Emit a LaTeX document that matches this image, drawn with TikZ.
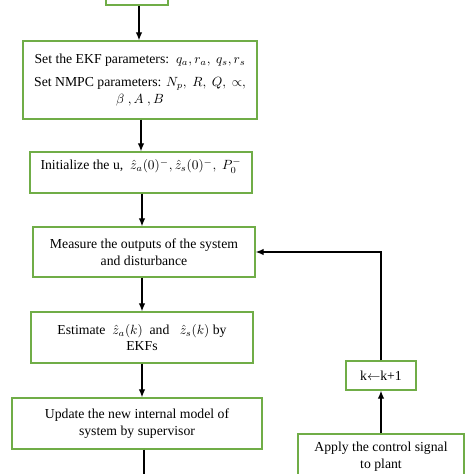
\documentclass[tikz,border=0pt]{standalone}
\usepackage{amsmath}
\usepackage{fontspec}
\setmainfont{Liberation Serif}
\usepackage{tikz}
\usetikzlibrary{arrows.meta}
\definecolor{boxgreen}{HTML}{70AD47}

\begin{document}
\begin{tikzpicture}[x=0.75pt,y=-0.75pt,>={Latex[length=6pt,width=5pt]}]
    \tikzstyle{block}=[draw=boxgreen,line width=1.1pt,fill=white,align=center,inner sep=0pt,font=\fontsize{10.3}{12.5}\selectfont]
    \tikzstyle{flow}=[->,line width=0.9pt]
    \useasboundingbox (0,0) rectangle (474,474);
    \clip (0,0) rectangle (474,474);
      \node[block,minimum width=46.5pt,minimum height=18.75pt] (S_0) at (137,-7.5) {};
      \node[block,minimum width=175.5pt,minimum height=58.5pt] (S_1) at (140,80)
        {Set the EKF parameters:\ \ $q_a,r_a,\ q_s,r_s$\\[5pt]
         Set NMPC parameters: $N_p,\ R,\ Q,\ \propto,$\\ $\beta\ ,A\ ,B$};
      \node[block,minimum width=166.5pt,minimum height=30.75pt] (S_2) at (141,172.5)
        {Initialize the u,\ \ $\hat{z}_a(0)^-,\hat{z}_s(0)^-,\ P_0^-$\\ ~};
      \node[block,minimum width=166.5pt,minimum height=37.5pt] (S_3) at (144,252)
        {Measure the outputs of the system\\ and disturbance};
      \node[block,minimum width=166.5pt,minimum height=38.25pt] (S_4) at (142,337.5)
        {Estimate\ \ $\hat{z}_a(k)$\ \ and\ \ \ $\hat{z}_s(k)$ by\\ EKFs};
      \node[block,minimum width=187.5pt,minimum height=38.25pt] (S_5) at (137,423.5)
        {Update the new internal model of\\ system by supervisor};
      \node[block,minimum width=52.5pt,minimum height=21.75pt] (K) at (381,375.5) {k$\leftarrow$k+1};
      \node[block,minimum width=124.5pt,minimum height=33.75pt] (A) at (381,456.5)
        {Apply the control signal\\ to plant};
      \coordinate (D) at (144,485);
      \draw[flow] (S_0.south -| 139,0) -- (S_1.north -| 139,0);
      \draw[flow] (S_1.south -| 141,0) -- (S_2.north -| 141,0);
      \draw[flow] (S_2.south -| 142,0) -- (S_3.north -| 142,0);
      \draw[flow] (S_3.south -| 142,0) -- (S_4.north -| 142,0);
      \draw[flow] (S_4.south -| 142,0) -- (S_5.north -| 142,0);
      \draw[line width=0.9pt] (S_5.south -| D) -- (D);
      \draw[flow] (A) -- (K);
      \draw[flow] (K) |- (S_3);
    \end{tikzpicture}
\end{document}
